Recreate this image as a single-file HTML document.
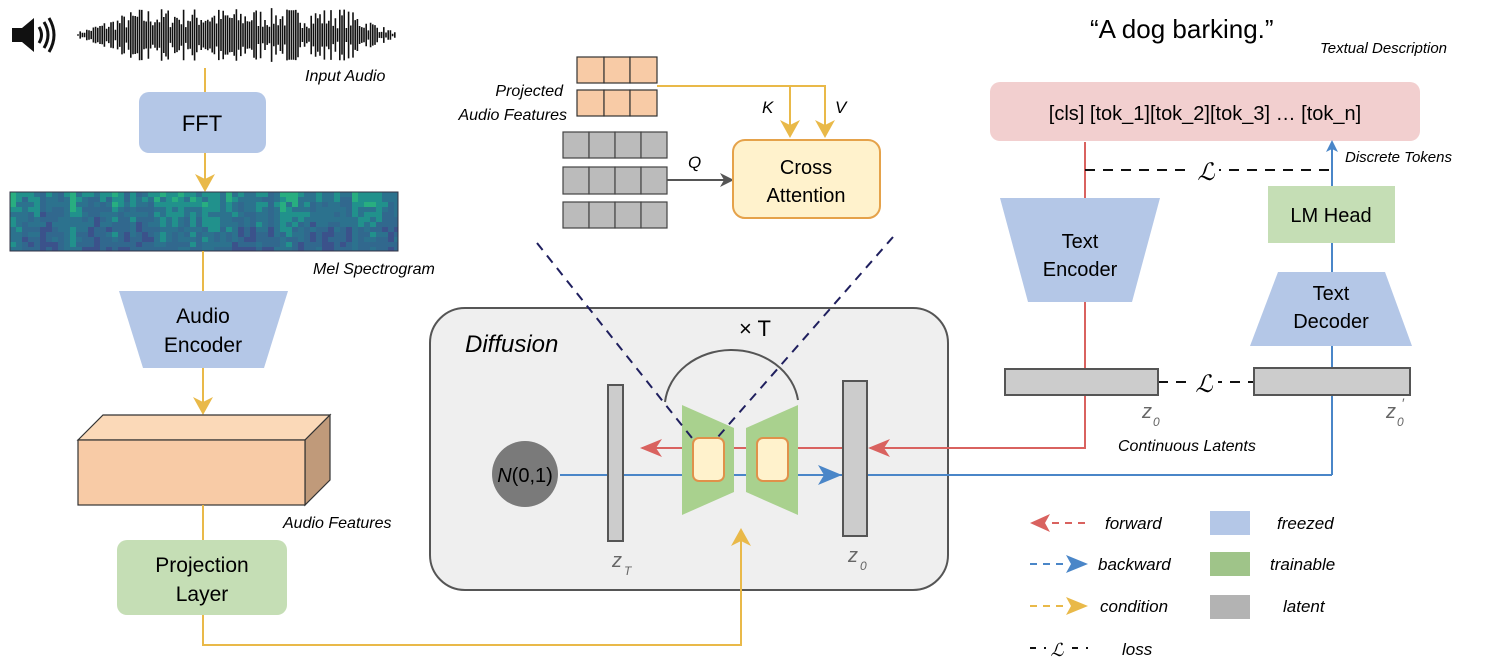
<!DOCTYPE html>
<html><head><meta charset="utf-8"><style>
html,body{margin:0;padding:0;background:#fff;}
svg{display:block;font-family:"Liberation Sans",sans-serif;}
.it{font-style:italic;}
</style></head><body>
<svg id="s" width="1512" height="672" viewBox="0 0 1512 672" xmlns="http://www.w3.org/2000/svg">
<defs>
<marker id="ar" markerWidth="22" markerHeight="18" refX="20" refY="9" orient="auto" markerUnits="userSpaceOnUse"><path d="M0,0 L22,9 L0,18 L6,9z" fill="#d9625f"/></marker>
<marker id="ay2" markerWidth="18" markerHeight="20" refX="16" refY="10" orient="auto" markerUnits="userSpaceOnUse"><path d="M0,0 L18,10 L0,20 L5,10z" fill="#e9b949"/></marker>
<marker id="ag" markerWidth="14" markerHeight="14" refX="12" refY="7" orient="auto" markerUnits="userSpaceOnUse"><path d="M0,0 L14,7 L0,14 L4,7z" fill="#555"/></marker>
<marker id="abs" markerWidth="12" markerHeight="12" refX="10" refY="6" orient="auto" markerUnits="userSpaceOnUse"><path d="M0,0 L12,6 L0,12 L3,6z" fill="#4a86c8"/></marker>
</defs>

<path d="M12,28 L22,28 L34,18 L34,52 L22,42 L12,42z" fill="#111"/>
<path d="M39,27 Q44,35 39,43 M44,22 Q52,35 44,48 M49,18 Q59,35 49,52" stroke="#111" stroke-width="3" fill="none"/>
<g id="wave"></g>
<text x="305" y="81" class="it" font-size="16">Input Audio</text>

<line x1="205" y1="68" x2="205" y2="92" stroke="#e9b949" stroke-width="2"/>
<rect x="139" y="92" width="127" height="61" rx="10" fill="#b4c7e7"/>
<text x="202" y="131" font-size="22" text-anchor="middle">FFT</text>
<line x1="205" y1="153" x2="205" y2="190" stroke="#e9b949" stroke-width="2" marker-end="url(#ay2)"/>
<g id="spec"></g>
<rect x="10" y="192" width="388" height="59" fill="none" stroke="#334" stroke-width="1"/>
<text x="313" y="274" class="it" font-size="16">Mel Spectrogram</text>
<line x1="203" y1="251" x2="203" y2="291" stroke="#e9b949" stroke-width="2"/>
<path d="M119,291 L288,291 L264,368 L143,368z" fill="#b4c7e7"/>
<text x="203" y="323" font-size="21" text-anchor="middle">Audio</text>
<text x="203" y="352" font-size="21" text-anchor="middle">Encoder</text>
<line x1="203" y1="368" x2="203" y2="413" stroke="#e9b949" stroke-width="2" marker-end="url(#ay2)"/>
<path d="M78,440 L103,415 L330,415 L305,440z" fill="#fbd9b8" stroke="#333" stroke-width="1.2"/>
<path d="M305,440 L330,415 L330,480 L305,505z" fill="#c09a7a" stroke="#333" stroke-width="1.2"/>
<rect x="78" y="440" width="227" height="65" fill="#f8cba6" stroke="#333" stroke-width="1.2"/>
<text x="283" y="528" class="it" font-size="16">Audio Features</text>
<line x1="203" y1="505" x2="203" y2="540" stroke="#e9b949" stroke-width="2"/>
<rect x="117" y="540" width="170" height="75" rx="10" fill="#c5deb5"/>
<text x="202" y="572" font-size="21" text-anchor="middle">Projection</text>
<text x="202" y="601" font-size="21" text-anchor="middle">Layer</text>

<rect x="430" y="308" width="518" height="282" rx="35" fill="#efefef" stroke="#555" stroke-width="2"/>
<polyline points="203,615 203,645 741,645 741,530" fill="none" stroke="#e9b949" stroke-width="2" marker-end="url(#ay2)"/>
<text x="465" y="352" class="it" font-size="24">Diffusion</text>
<text x="755" y="336" font-size="22" text-anchor="middle">× T</text>
<path d="M665,402 A67,58 0 0 1 798,400" fill="none" stroke="#555" stroke-width="2"/>
<line x1="560" y1="475" x2="1332" y2="475" stroke="#4a86c8" stroke-width="2"/>
<path d="M842,475 L818,465 L824,475 L818,485z" fill="#4a86c8"/>
<line x1="843" y1="448" x2="642" y2="448" stroke="#d9625f" stroke-width="2" marker-end="url(#ar)"/>
<circle cx="525" cy="474" r="33" fill="#7a7a7a"/>
<text x="525" y="482" font-size="20" text-anchor="middle" class="it">N<tspan font-style="normal">(0,1)</tspan></text>
<rect x="608" y="385" width="15" height="156" fill="#ccc" stroke="#555" stroke-width="2"/>
<text x="612" y="567" class="it" font-size="20" fill="#666">z</text><text x="624" y="575" class="it" font-size="12" fill="#666">T</text>
<path d="M682,405 L734,428 L734,492 L682,515z" fill="#a9d18e"/>
<path d="M746,428 L798,405 L798,515 L746,492z" fill="#a9d18e"/>
<rect x="693" y="438" width="31" height="43" rx="6" fill="#fff2cc" stroke="#e0914a" stroke-width="2"/>
<rect x="757" y="438" width="31" height="43" rx="6" fill="#fff2cc" stroke="#e0914a" stroke-width="2"/>
<rect x="843" y="381" width="24" height="155" fill="#ccc" stroke="#555" stroke-width="2"/>
<text x="848" y="562" class="it" font-size="20" fill="#666">z</text><text x="860" y="570" class="it" font-size="12" fill="#666">0</text>
<polyline points="1085,142 1085,448 870,448" fill="none" stroke="#d9625f" stroke-width="2" marker-end="url(#ar)"/>
<line x1="537" y1="243" x2="692" y2="438" stroke="#1f1f5e" stroke-width="2" stroke-dasharray="9,7"/>
<line x1="893" y1="237" x2="717" y2="438" stroke="#1f1f5e" stroke-width="2" stroke-dasharray="9,7"/>

<g fill="#f8cba6" stroke="#333" stroke-width="1.2">
<rect x="577" y="57" width="27" height="26"/><rect x="604" y="57" width="26" height="26"/><rect x="630" y="57" width="27" height="26"/>
<rect x="577" y="90" width="27" height="26"/><rect x="604" y="90" width="26" height="26"/><rect x="630" y="90" width="27" height="26"/>
</g>
<g fill="#bbb" stroke="#444" stroke-width="1.2">
<rect x="563" y="132" width="26" height="26"/><rect x="589" y="132" width="26" height="26"/><rect x="615" y="132" width="26" height="26"/><rect x="641" y="132" width="26" height="26"/>
<rect x="563" y="167" width="26" height="27"/><rect x="589" y="167" width="26" height="27"/><rect x="615" y="167" width="26" height="27"/><rect x="641" y="167" width="26" height="27"/>
<rect x="563" y="202" width="26" height="26"/><rect x="589" y="202" width="26" height="26"/><rect x="615" y="202" width="26" height="26"/><rect x="641" y="202" width="26" height="26"/>
</g>
<text x="563" y="96" class="it" font-size="16" text-anchor="end">Projected</text>
<text x="567" y="120" class="it" font-size="16" text-anchor="end">Audio Features</text>
<polyline points="657,86 825,86 825,136" fill="none" stroke="#e9b949" stroke-width="2" marker-end="url(#ay2)"/>
<line x1="790" y1="86" x2="790" y2="136" stroke="#e9b949" stroke-width="2" marker-end="url(#ay2)"/>
<text x="762" y="113" class="it" font-size="17">K</text>
<text x="835" y="113" class="it" font-size="17">V</text>
<line x1="667" y1="180" x2="732" y2="180" stroke="#555" stroke-width="2" marker-end="url(#ag)"/>
<text x="688" y="168" class="it" font-size="17">Q</text>
<rect x="733" y="140" width="147" height="78" rx="12" fill="#fff2cc" stroke="#e5a24a" stroke-width="2"/>
<text x="806" y="174" font-size="20" text-anchor="middle">Cross</text>
<text x="806" y="202" font-size="20" text-anchor="middle">Attention</text>

<text x="1090" y="38" font-size="26">“A dog barking.”</text>
<text x="1320" y="53" class="it" font-size="15">Textual Description</text>
<rect x="990" y="82" width="430" height="59" rx="10" fill="#f2cfcf"/>
<text x="1205" y="120" font-size="20" text-anchor="middle">[cls] [tok_1][tok_2][tok_3]  …  [tok_n]</text>
<line x1="1085" y1="170" x2="1330" y2="170" stroke="#111" stroke-width="2" stroke-dasharray="10,8"/>
<rect x="1193" y="155" width="26" height="30" fill="#fff"/>
<text x="1206" y="180" class="it" font-size="24" text-anchor="middle" font-family="Liberation Serif">ℒ</text>
<text x="1345" y="162" class="it" font-size="15">Discrete Tokens</text>
<path d="M1000,198 L1160,198 L1132,302 L1028,302z" fill="#b4c7e7"/>
<text x="1080" y="248" font-size="20" text-anchor="middle">Text</text>
<text x="1080" y="276" font-size="20" text-anchor="middle">Encoder</text>
<line x1="1332" y1="475" x2="1332" y2="142" stroke="#4a86c8" stroke-width="2" marker-end="url(#abs)"/>
<rect x="1268" y="186" width="127" height="57" fill="#c5deb5"/>
<text x="1331" y="222" font-size="20" text-anchor="middle">LM Head</text>
<path d="M1278,272 L1385,272 L1412,346 L1250,346z" fill="#b4c7e7"/>
<text x="1331" y="300" font-size="20" text-anchor="middle">Text</text>
<text x="1331" y="328" font-size="20" text-anchor="middle">Decoder</text>
<line x1="1158" y1="382" x2="1254" y2="382" stroke="#111" stroke-width="2" stroke-dasharray="10,8"/>
<rect x="1190" y="366" width="28" height="32" fill="#fff"/>
<text x="1204" y="392" class="it" font-size="24" text-anchor="middle" font-family="Liberation Serif">ℒ</text>
<rect x="1005" y="369" width="153" height="26" fill="#ccc" stroke="#555" stroke-width="2"/>
<rect x="1254" y="368" width="156" height="27" fill="#ccc" stroke="#555" stroke-width="2"/>
<text x="1142" y="418" class="it" font-size="20" fill="#666">z</text><text x="1153" y="426" class="it" font-size="12" fill="#666">0</text>
<text x="1386" y="418" class="it" font-size="20" fill="#666">z</text><text x="1397" y="426" class="it" font-size="12" fill="#666">0</text><text x="1402" y="408" font-size="14" fill="#666">′</text>
<text x="1118" y="451" class="it" font-size="16">Continuous Latents</text>

<line x1="1085" y1="523" x2="1050" y2="523" stroke="#d9625f" stroke-width="2" stroke-dasharray="7,6"/>
<path d="M1030,523 L1050,514 L1045,523 L1050,532z" fill="#d9625f"/>
<text x="1105" y="529" class="it" font-size="17">forward</text>
<line x1="1030" y1="564" x2="1068" y2="564" stroke="#4a86c8" stroke-width="2" stroke-dasharray="7,6"/>
<path d="M1088,564 L1066,555 L1071,564 L1066,573z" fill="#4a86c8"/>
<text x="1098" y="570" class="it" font-size="17">backward</text>
<line x1="1030" y1="606" x2="1068" y2="606" stroke="#e9b949" stroke-width="2" stroke-dasharray="7,6"/>
<path d="M1088,606 L1066,597 L1071,606 L1066,615z" fill="#e9b949"/>
<text x="1100" y="612" class="it" font-size="17">condition</text>
<line x1="1030" y1="648" x2="1088" y2="648" stroke="#111" stroke-width="2" stroke-dasharray="6,8"/>
<rect x="1046" y="634" width="22" height="26" fill="#fff"/>
<text x="1057" y="656" class="it" font-size="18" text-anchor="middle" font-family="Liberation Serif">ℒ</text>
<text x="1122" y="655" class="it" font-size="17">loss</text>
<rect x="1210" y="511" width="40" height="24" fill="#b4c7e7"/>
<rect x="1210" y="552" width="40" height="24" fill="#9fc489"/>
<rect x="1210" y="595" width="40" height="24" fill="#b3b3b3"/>
<text x="1277" y="529" class="it" font-size="17">freezed</text>
<text x="1270" y="570" class="it" font-size="17">trainable</text>
<text x="1283" y="612" class="it" font-size="17">latent</text>
</svg>
<script>
(function(){
var NS="http://www.w3.org/2000/svg";
var seed=7;function r(){seed=(seed*16807)%2147483647;return seed/2147483647;}
var w=document.getElementById('wave'),d="";
for(var x=78;x<=395;x+=2.2){var env=Math.min(1,(x-78)/60)*Math.min(1,(395-x)/50);var a=(3+24*env)*(0.25+0.75*r());d+="M"+x.toFixed(1)+","+(35-a).toFixed(1)+"L"+x.toFixed(1)+","+(35+a).toFixed(1);}
var p=document.createElementNS(NS,"path");p.setAttribute("d",d);p.setAttribute("stroke","#111");p.setAttribute("stroke-width","1.6");w.appendChild(p);
var s=document.getElementById('spec');
var bg=document.createElementNS(NS,"rect");bg.setAttribute("x",10);bg.setAttribute("y",192);bg.setAttribute("width",388);bg.setAttribute("height",59);bg.setAttribute("fill","#2c728e");s.appendChild(bg);
var cols=["#3b528b","#31688e","#2c728e","#21918c","#28ae80","#5ec962","#addc30"];
var loud=0.5;
for(var cx=10;cx<398;cx+=6){loud=0.6*loud+0.4*r();for(var cy=192;cy<251;cy+=5){var v=loud*0.8+r()*0.3-(cy-192)/180;var i=Math.max(0,Math.min(6,Math.floor(v*6)));var e=document.createElementNS(NS,"rect");e.setAttribute("x",cx);e.setAttribute("y",cy);e.setAttribute("width",Math.min(6,398-cx));e.setAttribute("height",Math.min(5,251-cy));e.setAttribute("fill",cols[i]);s.appendChild(e);}}
})();
</script>
</body></html>
